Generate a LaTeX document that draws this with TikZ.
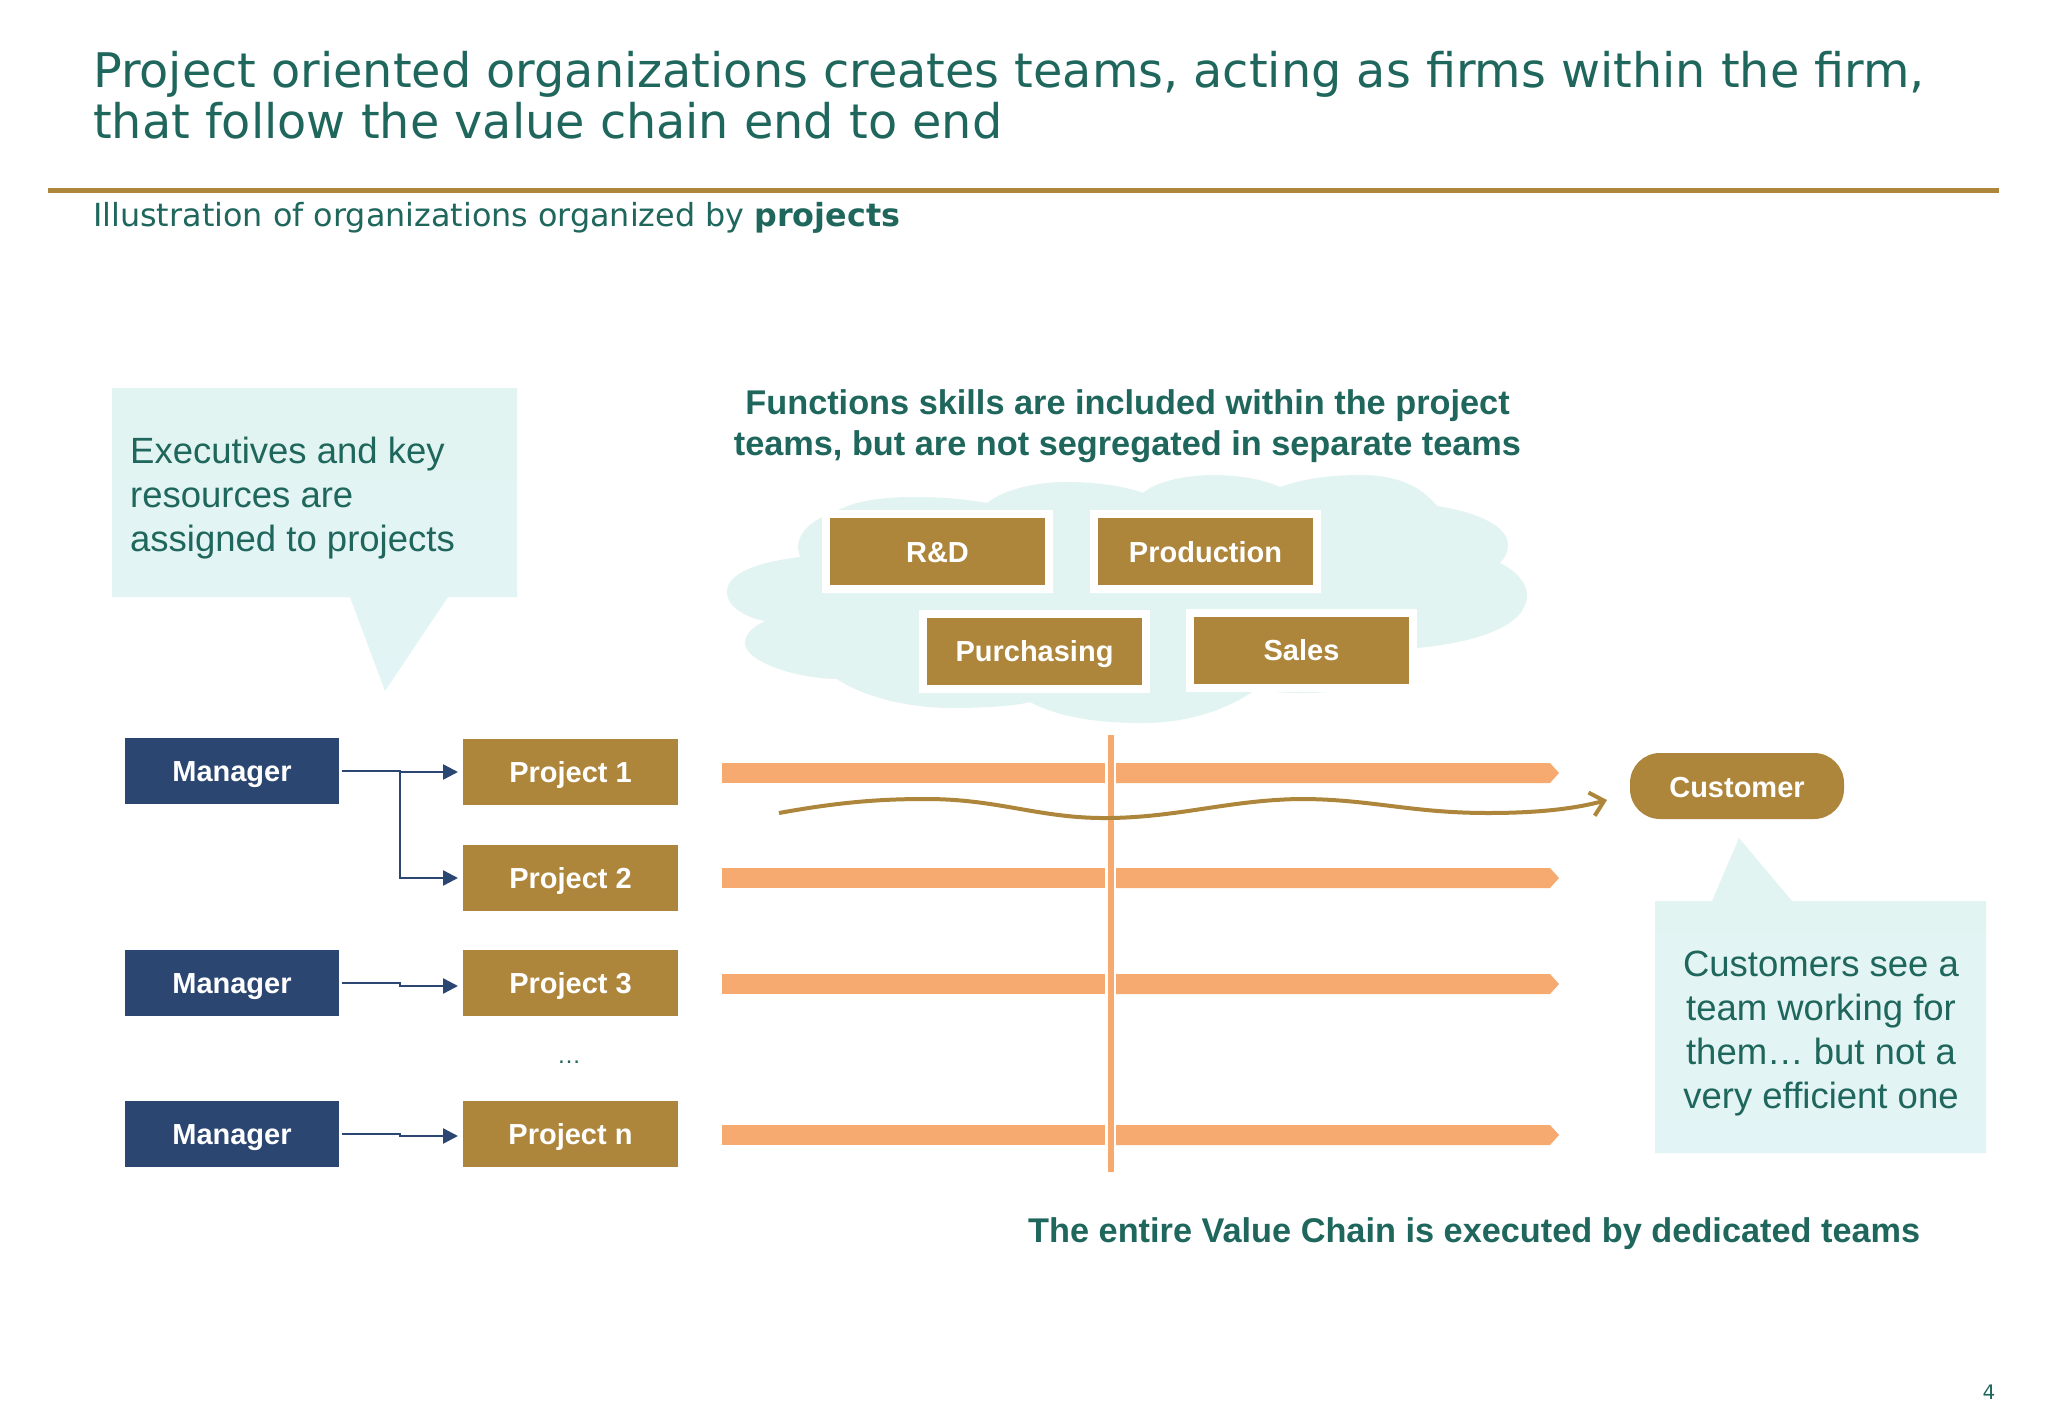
\documentclass[tikz,border=0pt]{standalone}
\usepackage{fontspec}
\setmainfont{Liberation Sans}
\newfontfamily\verd{DejaVu Sans}
\usetikzlibrary{arrows.meta}
\definecolor{gold}{HTML}{AD863B}
\definecolor{navy}{HTML}{2C4672}
\definecolor{orangebar}{HTML}{F7AA6F}
\definecolor{teal}{HTML}{1F675C}
\definecolor{mint}{HTML}{E2F4F1}
\definecolor{mintb}{HTML}{E3F4F6}
\tikzset{
  boxbase/.style={inner sep=0pt,outer sep=0pt,minimum width=215pt,minimum height=66pt,text height=21pt,text depth=0pt,text=white,font=\fontsize{29}{34}\selectfont\bfseries},
  mgrbox/.style={boxbase,fill=navy,minimum width=214pt},
  projbox/.style={boxbase,fill=gold},
  funcbox/.style={boxbase,fill=gold,draw=white,line width=8pt,minimum width=223pt,minimum height=75pt},
  custbox/.style={boxbase,fill=gold,rounded corners=30pt,minimum width=214pt,minimum height=66pt,text height=22pt},
  navyline/.style={draw=navy,line width=2.4pt,-{Triangle[length=15pt,width=15pt]},shorten >=5pt,shorten <=3pt},
  headtext/.style={inner sep=0pt,text=teal,font=\fontsize{34.3}{41}\selectfont\bfseries,align=center},
  calltext/.style={inner sep=0pt,text=teal,font=\fontsize{36.5}{44.2}\selectfont},
  titletext/.style={anchor=base west,inner sep=0pt,text=teal,font=\verd\fontsize{47.7}{51}\selectfont},
  bar/.style={fill=orangebar},
  callfill/.style={top color=mint,bottom color=mintb}
}
\begin{document}
\begin{tikzpicture}[x=1pt,y=-1pt]
\useasboundingbox (0,0) rectangle (2048,1418);
\fill[white] (0,0) rectangle (2048,1418);
% title
\node[titletext] (title1) at (93,88) {Project oriented organizations creates teams, acting as firms within the firm,};
\node[titletext] (title2) at (93,139) {that follow the value chain end to end};
\fill[gold] (48,188) rectangle (1999,193);
\node[anchor=base west,inner sep=0pt,text=teal,font=\verd\fontsize{31.8}{36}\selectfont] (sub) at (93,226) {Illustration of organizations organized by \textbf{projects}};
% left callout
\shade[callfill] (112,388) -- (517,388) -- (517,597) -- (448,597) -- (385,691) -- (350,597) -- (112,597) -- cycle;
\node[calltext,align=left,anchor=north west] (calll) at (130,436.5) {Executives and key\\resources are\\assigned to projects};
% heading
\node[headtext] (head) at (1127.5,426.3) {Functions skills are included within the project\\teams, but are not segregated in separate teams};
% cloud
\fill[mint] (800,557)
 .. controls (760,562) and (727,572) .. (727,592)
 .. controls (727,608) and (748,618) .. (765,621)
 .. controls (752,627) and (745,635) .. (745,643)
 .. controls (745,660) and (790,678) .. (837,679)
 .. controls (860,695) and (905,708) .. (950,708)
 .. controls (985,708) and (1015,706) .. (1030,702)
 .. controls (1060,718) and (1100,723) .. (1143,723)
 .. controls (1190,723) and (1230,708) .. (1255,690)
 .. controls (1285,694) and (1320,694) .. (1345,690)
 -- (1417,648)
 .. controls (1480,642) and (1527,625) .. (1527,595)
 .. controls (1527,583) and (1515,570) .. (1500,563)
 .. controls (1505,558) and (1508,552) .. (1508,545)
 .. controls (1508,525) and (1475,512) .. (1437,506)
 .. controls (1420,485) and (1395,475) .. (1360,475)
 .. controls (1325,475) and (1300,480) .. (1280,487)
 .. controls (1265,480) and (1240,475) .. (1213,475)
 .. controls (1185,475) and (1155,482) .. (1143,493)
 .. controls (1125,486) and (1095,482) .. (1067,482)
 .. controls (1030,482) and (1000,492) .. (987,503)
 .. controls (965,499) and (940,497) .. (913,497)
 .. controls (880,497) and (855,502) .. (843,508)
 .. controls (815,518) and (798,530) .. (798,548)
 -- cycle;
% function boxes
\node[funcbox] (rd) at (937.5,551.5) {R\&D};
\node[funcbox] (prod) at (1205.5,551.5) {Production};
\node[funcbox] (purch) at (1034.5,651) {Purchasing};
\node[funcbox] (sales) at (1301.5,650) {Sales};
% managers and projects
\node[mgrbox,anchor=north west] (m1) at (125,738) {Manager};
\node[mgrbox,anchor=north west] (m3) at (125,950) {Manager};
\node[mgrbox,anchor=north west] (mn) at (125,1101) {Manager};
\node[projbox,anchor=north west] (p1) at (463,739) {Project 1};
\node[projbox,anchor=north west] (p2) at (463,845) {Project 2};
\node[projbox,anchor=north west] (p3) at (463,950) {Project 3};
\node[projbox,anchor=north west] (pn) at (463,1101) {Project n};
\node[inner sep=0pt,text=teal,font=\fontsize{24}{28}\selectfont] (dots) at (569,1062) {\dots};
\coordinate (elbow) at (400,0);
\draw[navyline] (m1.east) -- (elbow|-m1.east) -- (elbow|-p1.west) -- (p1.west);
\draw[navyline] (m1.east) -- (elbow|-m1.east) -- (elbow|-p2.west) -- (p2.west);
\draw[navyline] (m3.east) -- (elbow|-m3.east) -- ([yshift=-3pt]elbow|-p3.west) -- ([yshift=-3pt]p3.west);
\draw[navyline] (mn.east) -- (elbow|-mn.east) -- ([yshift=-2pt]elbow|-pn.west) -- ([yshift=-2pt]pn.west);
% bars
\foreach \t in {763,868,974,1125}{
  \fill[bar] (722,\t) rectangle (1105,\t+20);
  \fill[bar] (1116,\t) -- (1550,\t) -- (1559,\t+10) -- (1550,\t+20) -- (1116,\t+20) -- cycle;
}
\fill[bar] (1108,735) rectangle (1114,1172);
% wave
\coordinate (wavestart) at (779,813);
\coordinate (waveend) at (1607,800);
\draw[gold,line width=4pt,-{Straight Barb[length=13pt,width=24pt,line width=4pt]}] (wavestart) .. controls (840,802) and (880,799) .. (926,799) .. controls (1000,799) and (1040,819) .. (1110,818) .. controls (1180,817) and (1230,800) .. (1300,799) .. controls (1370,799) and (1410,813) .. (1488,813) .. controls (1530,813) and (1570,810) .. (waveend);
% customer
\node[custbox,anchor=north west] (cust) at (1630,753) {Customer};
% right callout
\shade[callfill] (1655,901) -- (1712,901) -- (1739,838) -- (1792,901) -- (1986,901) -- (1986,1153) -- (1655,1153) -- cycle;
\node[calltext,align=center] (callr) at (1821,1033.5) {Customers see a\\team working for\\them\dots{} but not a\\very efficient one};
% bottom
\node[headtext,anchor=base east] (bottom) at (1920.5,1242) {The entire Value Chain is executed by dedicated teams};
\node[inner sep=0pt,text=teal,font=\verd\fontsize{20}{24}\selectfont] (pg) at (1989,1392) {4};
\end{tikzpicture}
\end{document}
